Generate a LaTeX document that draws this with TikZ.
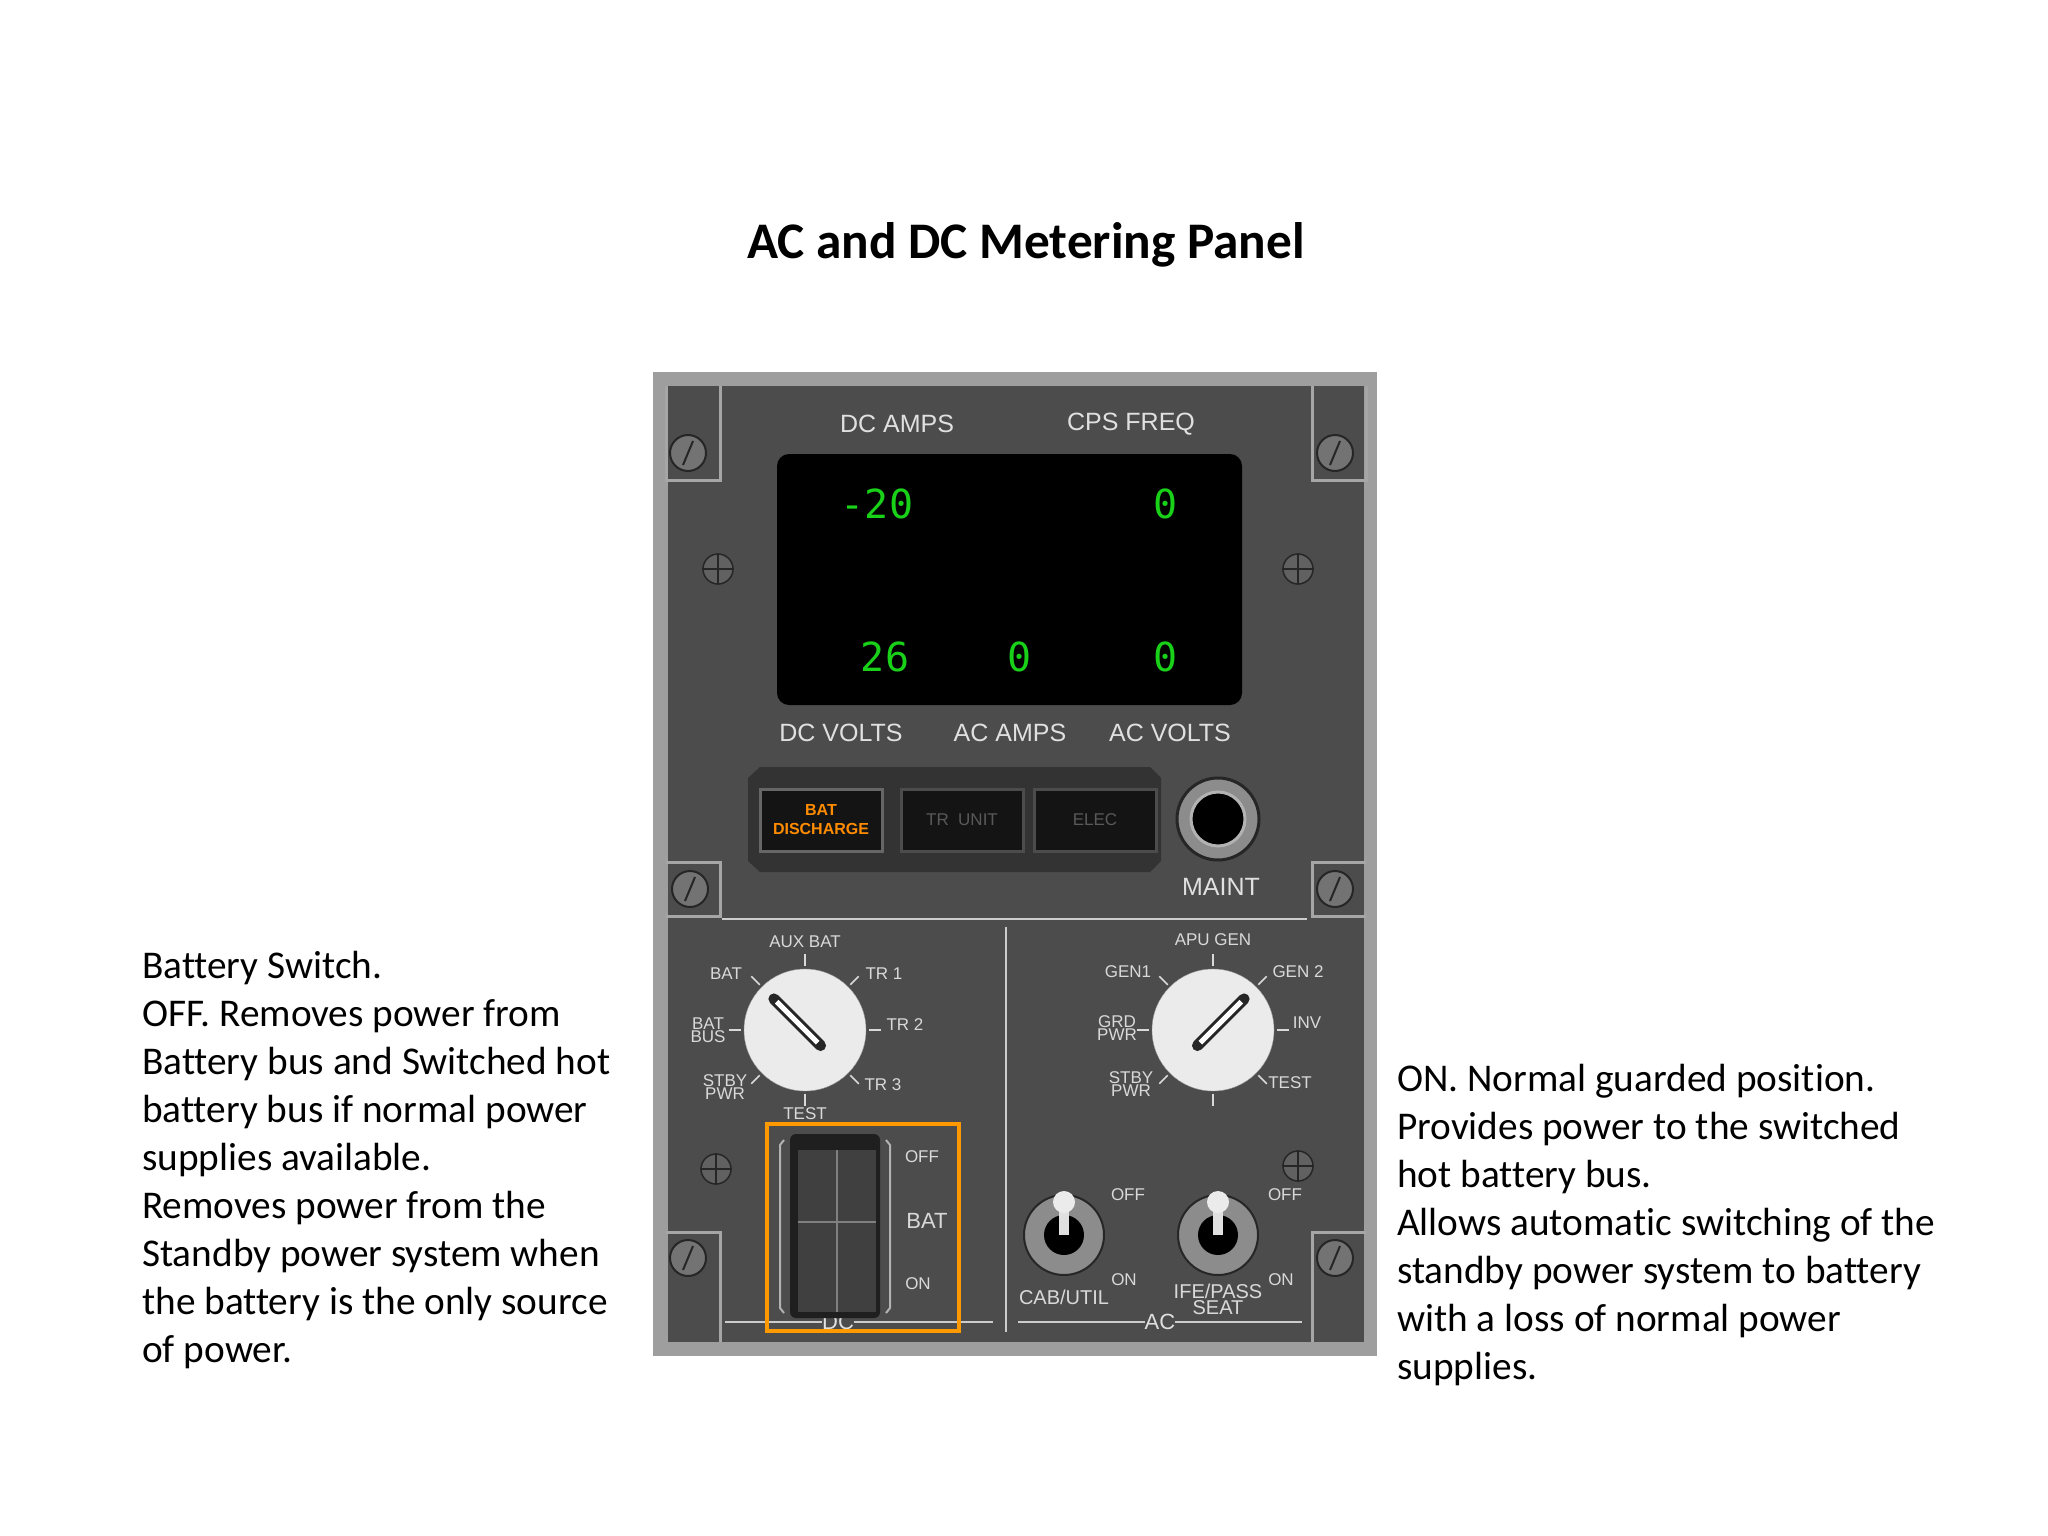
\documentclass[tikz,border=0pt]{standalone}
\usepackage{fontspec}
\usetikzlibrary{calc}
\setmainfont[Ligatures=NoCommon]{Carlito}
\newfontfamily\pan{Liberation Sans}
\newfontfamily\dig{DejaVu Sans Mono}
\begin{document}
\begin{tikzpicture}[x=1pt,y=-1pt,
  lbl/.style={text=white!88!black,font=\pan\fontsize{25}{25}\selectfont,inner sep=0},
  sml/.style={text=white!85!black,font=\pan\fontsize{17}{17}\selectfont,inner sep=0,align=center},
  digit/.style={text=green!80!black!90!white,font=\dig\fontsize{40}{40}\selectfont,inner sep=0},
  side/.style={font=\fontsize{39.3}{48}\selectfont,align=left,anchor=north west,inner sep=0},
  btn/.style={draw=black!70,line width=3pt,fill=black!92,minimum width=122,minimum height=62,inner sep=0},
  bigscrew/.style={circle,draw=black!85,line width=2pt,fill=black!55,minimum size=36},
  crossscrew/.style={circle,draw=black!85,line width=1.5pt,fill=black!62,minimum size=30}]
\useasboundingbox (0,0) rectangle (2048,1536);
\fill[white] (0,0) rectangle (2048,1536);
\node[font=\bfseries\fontsize{51.3}{52}\selectfont] (title) at (1026,245) {AC and DC Metering Panel};
% panel
\fill[black!38] (653,372) rectangle (1377,1356);
\fill[black!70] (668,386) rectangle (1364,1342);
\draw[black!35,line width=3pt] (666,386) -- (666,480) -- (720,480) -- (720,386);
\draw[black!35,line width=3pt] (1366,386) -- (1366,480) -- (1312,480) -- (1312,386);
\draw[black!35,line width=3pt] (666,862) -- (720,862) -- (720,916) -- (666,916);
\draw[black!35,line width=3pt] (1366,862) -- (1312,862) -- (1312,916) -- (1366,916);
\draw[black!35,line width=3pt] (666,1232) -- (720,1232) -- (720,1342);
\draw[black!35,line width=3pt] (1366,1232) -- (1312,1232) -- (1312,1342);
% screws
\foreach \n/\x/\y in {s1/688/453,s2/1335/453,s3/690/889,s4/1335/889,s5/688/1258,s6/1335/1258}{
  \node[bigscrew] (\n) at (\x,\y) {};
  \draw[black!85,line width=2pt] ([shift={(-5,12)}]\n.center) -- ([shift={(5,-12)}]\n.center);}
\foreach \n/\x/\y in {c1/718/569,c2/1298/569,c3/716/1169,c4/1298/1166}{
  \node[crossscrew] (\n) at (\x,\y) {};
  \draw[black!85,line width=1.2pt] (\n.west) -- (\n.east) (\n.north) -- (\n.south);}
% display
\node[lbl] (dcamps) at (897,424) {DC AMPS};
\node[lbl] (cps) at (1131,424) {CPS FREQ};
\fill[black,rounded corners=12] (777,454) rectangle (1242,705);
\node[digit] (d1) at (877,504) {-20};
\node[digit] (d2) at (1166,504) {0};
\node[digit] (d3) at (885,657) {26};
\node[digit] (d4) at (1020,657) {0};
\node[digit] (d5) at (1166,657) {0};
\node[lbl] (dcv) at (841,733) {DC VOLTS};
\node[lbl] (aca) at (1010,733) {AC AMPS};
\node[lbl] (acv) at (1170,733) {AC VOLTS};
% annunciators
\fill[black!80] (760,767) -- (1150,767) -- (1161,778) -- (1161,861) -- (1150,872) -- (760,872) -- (748,861) -- (748,778) -- cycle;
\node[btn,draw=black!60] (batd) at (821,820) {};
\node[text=orange!90!yellow,font=\pan\bfseries\fontsize{16}{19}\selectfont,align=center] at (batd) {BAT\\DISCHARGE};
\node[btn] (tru) at (962,820) {};
\node[text=black!65,font=\pan\fontsize{17}{17}\selectfont] at (tru) {TR\ \ UNIT};
\node[btn] (elec) at (1095,820) {};
\node[text=black!65,font=\pan\fontsize{17}{17}\selectfont] at (elec) {ELEC};
\node[circle,draw=black!85,line width=3pt,fill=black!45,minimum size=82] (jack) at (1218,819) {};
\node[circle,draw=black!30,line width=3pt,fill=black,minimum size=54] at (jack) {};
\node[lbl] (maint) at (1221,887) {MAINT};
% dividers
\coordinate (h1) at (722,919); \coordinate (h2) at (1307,919);
\draw[white!80!black,line width=2pt] (h1) -- (h2);
\coordinate (v1) at (1006,927); \coordinate (v2) at (1006,1332);
\draw[white!80!black,line width=2pt] (v1) -- (v2);
\node[lbl,font=\pan\fontsize{22}{22}\selectfont] (dc) at (838,1322) {DC};
\draw[white!80!black,line width=2pt] (725,1322) -- (dc.west) (dc.east) -- (993,1322);
\node[lbl,font=\pan\fontsize{22}{22}\selectfont] (ac) at (1160,1322) {AC};
\draw[white!80!black,line width=2pt] (1018,1322) -- (ac.west) (ac.east) -- (1302,1322);
% rotary left
\node[circle,fill=white!92!black,draw=black!40,minimum size=122] (rl) at (805,1030) {};
\foreach \a in {-90,-135,180,135,90,45,0,-45}{\draw[white!85!black,line width=1.5pt] ($(rl.center)+(\a:64)$) -- ($(rl.center)+(\a:76)$);}
\draw[black!85,line width=11pt,line cap=round] ($(rl.center)+(225:44)$) -- ($(rl.center)+(45:22)$);
\draw[white,line width=5pt] ($(rl.center)+(225:40)$) -- ($(rl.center)+(45:18)$);
\node[sml] (auxbat) at (805,942) {AUX BAT};
\node[sml] (bat) at (726,974) {BAT};
\node[sml] (tr1) at (884,974) {TR 1};
\node[sml] (batbus) at (708,1030) {BAT\\[-4pt]BUS};
\node[sml] (tr2) at (905,1025) {TR 2};
\node[sml] (stbyl) at (725,1087) {STBY\\[-4pt]PWR};
\node[sml] (tr3) at (883,1085) {TR 3};
\node[sml] (testl) at (805,1114) {TEST};
% rotary right
\node[circle,fill=white!92!black,draw=black!40,minimum size=122] (rr) at (1213,1030) {};
\foreach \a in {-90,-135,180,135,90,45,0,-45}{\draw[white!85!black,line width=1.5pt] ($(rr.center)+(\a:64)$) -- ($(rr.center)+(\a:76)$);}
\draw[black!85,line width=11pt,line cap=round] ($(rr.center)+(-45:44)$) -- ($(rr.center)+(135:22)$);
\draw[white,line width=5pt] ($(rr.center)+(-45:40)$) -- ($(rr.center)+(135:18)$);
\node[sml] (apugen) at (1213,940) {APU GEN};
\node[sml] (gen1) at (1128,972) {GEN1};
\node[sml] (gen2) at (1298,972) {GEN 2};
\node[sml] (grd) at (1117,1028) {GRD\\[-4pt]PWR};
\node[sml] (inv) at (1307,1023) {INV};
\node[sml] (stbyr) at (1131,1084) {STBY\\[-4pt]PWR};
\node[sml] (testr) at (1290,1083) {TEST};
% battery guarded switch
\fill[black!88,rounded corners=6] (790,1134) rectangle (880,1318);
\fill[black!75] (798,1150) rectangle (876,1312);
\draw[black!50,line width=1.5pt] (798,1222) -- (876,1222) (837,1150) -- (837,1312);
\draw[white!70!black,line width=2pt] (784,1140) -- (780,1145) -- (780,1308) -- (784,1313) (886,1140) -- (890,1145) -- (890,1308) -- (886,1313);
\node[draw=orange!80!yellow,line width=4pt,minimum width=192,minimum height=207,inner sep=0] (ybox) at (862.5,1227) {};
\node[sml] (boff) at (922,1157) {OFF};
\node[sml,font=\pan\fontsize{22}{22}\selectfont] (bbat) at (927,1221) {BAT};
\node[sml] (bon) at (918,1284) {ON};
% toggles
\foreach \n/\x in {t1/1064,t2/1218}{
  \node[circle,draw=black!85,line width=2pt,fill=black!45,minimum size=80] (\n) at (\x,1235) {};
  \node[circle,fill=black,minimum size=40] at (\n) {};
  \fill[white!88!black] (\x-5,1235) rectangle (\x+5,1205);
  \fill[white!92!black] (\x,1202) circle (11);}
\node[sml] (o1) at (1128,1195) {OFF};
\node[sml] (o2) at (1285,1195) {OFF};
\node[sml] (on1) at (1124,1280) {ON};
\node[sml] (on2) at (1281,1280) {ON};
\node[sml,font=\pan\fontsize{20}{20}\selectfont] (cab) at (1064,1297) {CAB/UTIL};
\node[sml,font=\pan\fontsize{20}{20}\selectfont] (ife) at (1218,1299) {IFE/PASS\\[-4pt]SEAT};
% side texts
\node[side] (lt) at (142,951) {Battery Switch.\\OFF. Removes power from\\Battery bus and Switched hot\\battery bus if normal power\\supplies available.\\Removes power from the\\Standby power system when\\the battery is the only source\\of power.};
\node[side] (rt) at (1397,1064) {ON. Normal guarded position.\\Provides power to the switched\\hot battery bus.\\Allows automatic switching of the\\standby power system to battery\\with a loss of normal power\\supplies.};
\end{tikzpicture}
\end{document}
